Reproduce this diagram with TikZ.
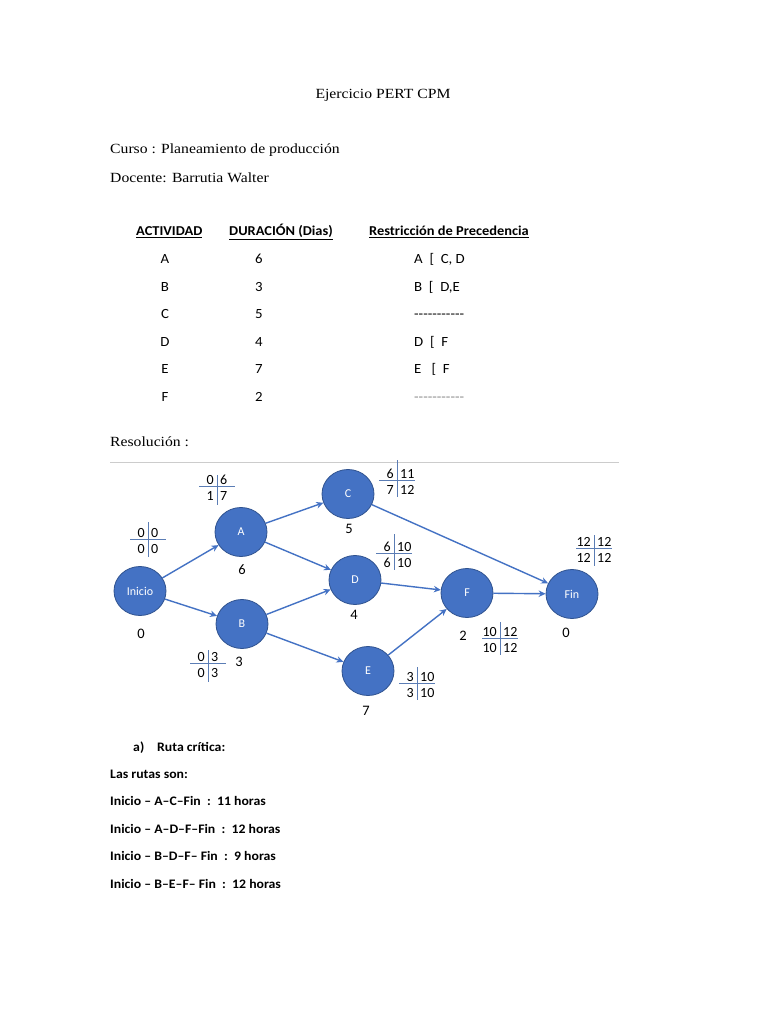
\documentclass[tikz,border=0pt]{standalone}
\usepackage{fontspec}
\setmainfont{Liberation Serif}[FakeStretch=1.12]
\newfontfamily\cf{Carlito}[Ligatures=TeX]
\newfontfamily\cfw{Carlito}[Ligatures=TeX, FakeStretch=1.06]
\usetikzlibrary{arrows.meta,shapes.geometric}
\definecolor{nodeblue}{HTML}{4472C4}
\definecolor{nodeedge}{HTML}{2F528F}
\definecolor{crossblue}{HTML}{5B7DB5}
\tikzset{
  ev/.style={ellipse, minimum width=52pt, minimum height=49pt, fill=nodeblue, draw=nodeedge,
    line width=0.8pt, text=white, font=\cf\fontsize{12}{14}\selectfont, inner sep=0pt},
  arr/.style={-{Stealth[length=7pt,width=6.5pt]}, draw=nodeblue, line width=1.4pt},
  num/.style={font=\cf\fontsize{14}{16}\selectfont, inner sep=0pt},
  lbl/.style={font=\cf\fontsize{14.5}{16}\selectfont, inner sep=0pt},
  serif/.style={font=\fontsize{14}{17}\selectfont, anchor=base west, inner sep=0pt},
  bodyb/.style={font=\cfw\bfseries\fontsize{13}{15}\selectfont, anchor=base west, inner sep=0pt},
  cell/.style={font=\cfw\fontsize{14}{15}\selectfont, anchor=base, inner sep=0pt},
  hcell/.style={font=\cfw\bfseries\fontsize{13.6}{15}\selectfont, anchor=base west, inner sep=0pt},
  crossline/.style={draw=crossblue, line width=1pt}
}
% #1 name, #2 vx, #3 hy, #4..#7 numbers tl tr bl br, #8 top of vertical, #9 bottom of vertical
\newcommand\pcross[9]{%
  \draw[crossline] (#2-18,#3) -- (#2+18,#3);
  \draw[crossline] (#2,#8) -- (#2,#9);
  \node[num, anchor=base east] (#1tl) at (#2-3,#3-2) {#4};
  \node[num, anchor=base west] (#1tr) at (#2+3,#3-2) {#5};
  \node[num, anchor=base east] (#1bl) at (#2-3,#3+14) {#6};
  \node[num, anchor=base west] (#1br) at (#2+3,#3+14) {#7};
}
\begin{document}
\begin{tikzpicture}[x=1pt,y=-1pt]
\useasboundingbox[fill=white] (0,0) rectangle (768,1024);

% header texts
\node[serif, anchor=base] (title) at (383,99) {Ejercicio PERT CPM};
\node[serif] (curso) at (110,154) {Curso : Planeamiento de producción};
\node[serif] (docente) at (110,183) {Docente: Barrutia Walter};

% table
\node[hcell] (h1) at (136,236) {\underline{ACTIVIDAD}};
\node[hcell] (h2) at (229,236) {\underline{DURACIÓN (Dias)}};
\node[hcell] (h3) at (369,236) {\underline{Restricción de Precedencia}};
\foreach \a/\d/\r/\y [count=\i] in {A/6/{A\ \ [\ \ C, D}/263, B/3/{B\ \ [\ \ D,E}/291, C/5/{-{}-{}-{}-{}-{}-{}-{}-{}-{}-{}-}/318, D/4/{D\ \ [\ \ F}/346, E/7/{E\ \ \ [\ \ F}/373, F/2/{\textcolor{black!45}{-{}-{}-{}-{}-{}-{}-{}-{}-{}-{}-}}/401}{
  \node[cell] (act\i) at (165,\y) {\a};
  \node[cell] (dur\i) at (259,\y) {\d};
  \node[cell, anchor=base west] (res\i) at (414,\y) {\r};
}

\node[serif] (resol) at (110,446) {Resolución :};
\draw[gray!40, line width=1pt] (110,462) -- (619,462);

% network nodes
\node[ev] (ini) at (140,591) {Inicio};
\node[ev] (A) at (241,532) {A};
\node[ev] (B) at (242,624) {B};
\node[ev] (C) at (348,494) {C};
\node[ev] (D) at (355,580) {D};
\node[ev] (E) at (368,671) {E};
\node[ev] (F) at (467,593) {F};
\node[ev] (fin) at (572,594) {Fin};

% connectors
\draw[arr] (ini) -- (A);
\draw[arr] (ini) -- (B);
\draw[arr] (A) -- (C);
\draw[arr] (A) -- (D);
\draw[arr] (B) -- (D);
\draw[arr] (B) -- (E);
\draw[arr] (C) -- (fin);
\draw[arr] (D) -- (F);
\draw[arr] (E) -- (F);
\draw[arr] (F) -- (fin);

% durations
\node[lbl] (dini) at (141,634) {0};
\node[lbl] (dA) at (242,570) {6};
\node[lbl] (dC) at (349,529) {5};
\node[lbl] (dD) at (354,615) {4};
\node[lbl] (dE) at (366,711) {7};
\node[lbl] (dF) at (463,636) {2};
\node[lbl] (dfin) at (566,633) {0};
\node[lbl] (dB) at (239,662) {3};

% PERT crosses
\pcross{xini}{148}{539}{0}{0}{0}{0}{522}{557}
\pcross{xA}{217}{486}{0}{6}{1}{7}{475}{505}
\pcross{xC}{397}{480}{6}{11}{7}{12}{460}{497}
\pcross{xD}{394}{553}{6}{10}{6}{10}{534}{570}
\pcross{xfin}{594}{548}{12}{12}{12}{12}{535}{566}
\pcross{xF}{500}{638}{10}{12}{10}{12}{622}{655}
\pcross{xE}{417}{683}{3}{10}{3}{10}{667}{700}
\pcross{xB}{208}{663}{0}{3}{0}{3}{650}{682}

% bottom text
\node[bodyb] (a) at (133,751) {a)};
\node[bodyb] (ruta) at (157,751) {Ruta crítica:};
\node[bodyb] (rutas) at (110,778) {Las rutas son:};
\node[bodyb] (r1) at (110,805) {Inicio – A–C–Fin\ \ :\ \ 11 horas};
\node[bodyb] (r2) at (110,833) {Inicio – A–D–F–Fin\ \ :\ \ 12 horas};
\node[bodyb] (r3) at (110,860) {Inicio – B–D–F– Fin\ \ :\ \ 9 horas};
\node[bodyb] (r4) at (110,888) {Inicio – B–E–F– Fin\ \ :\ \ 12 horas};
\end{tikzpicture}
\end{document}
